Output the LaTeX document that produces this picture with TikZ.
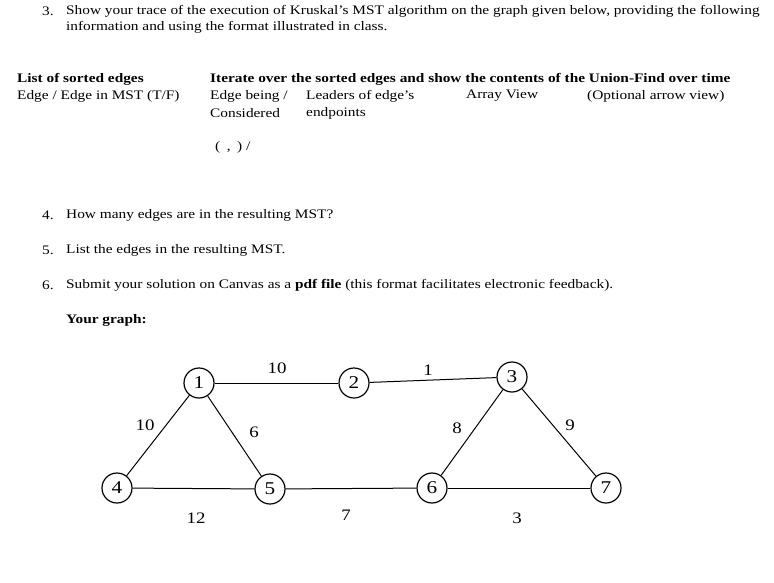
\documentclass[tikz,border=0pt]{standalone}
\usepackage{fontspec}
\setmainfont[FakeStretch=1.18]{Liberation Serif}
\begin{document}
\begin{tikzpicture}[x=1pt,y=-1pt,
  t/.style={anchor=west,inner sep=0pt,font=\fontsize{13}{15}\selectfont},
  b/.style={t,font=\fontsize{13}{15}\selectfont\bfseries},
  v/.style={circle,draw,line width=1.2pt,minimum size=30pt,inner sep=0pt,font=\fontsize{18}{20}\selectfont},
  e/.style={line width=1pt},
  w/.style={font=\fontsize{16}{18}\selectfont,inner sep=1pt}]
\useasboundingbox (0,0) rectangle (774,582);
\node[t] (n3) at (42,11) {3.};
\node[t] (l1) at (66,11) {Show your trace of the execution of Kruskal's MST algorithm on the graph given below, providing the following};
\node[t] (l2) at (66,27) {information and using the format illustrated in class.};
\node[b] (h1) at (17,79) {List of sorted edges};
\node[t] (h2) at (17,96) {Edge / Edge in MST (T/F)};
\node[b] (h3) at (210,79) {Iterate over the sorted edges and show the contents of the Union-Find over time};
\node[t] (c1) at (210,96) {Edge being /};
\node[t] (c2) at (306,96) {Leaders of edge's};
\node[t] (c3) at (466,96) {Array View};
\node[t] (c4) at (587,96) {(Optional arrow view)};
\node[t] (c5) at (210,113) {Considered};
\node[t] (c6) at (306,113) {endpoints};
\node[t] (c7) at (215,147) {(\enspace,\enspace) /};
\node[t] (q4) at (42,215) {4.};
\node[t] (q4t) at (66,215) {How many edges are in the resulting MST?};
\node[t] (q5) at (42,250) {5.};
\node[t] (q5t) at (66,250) {List the edges in the resulting MST.};
\node[t] (q6) at (42,285) {6.};
\node[t] (q6t) at (66,285) {Submit your solution on Canvas as a \textbf{pdf file} (this format facilitates electronic feedback).};
\node[b] (yg) at (66,320) {Your graph:};
\node[v] (v1) at (199,383) {1};
\node[v] (v2) at (354,383) {2};
\node[v] (v3) at (512,377) {3};
\node[v] (v4) at (117,488) {4};
\node[v] (v5) at (270,489) {5};
\node[v] (v6) at (432,488) {6};
\node[v] (v7) at (606,488) {7};
\draw[e] (v1) -- (v2);
\draw[e] (v2) -- (v3);
\draw[e] (v1) -- (v4);
\draw[e] (v1) -- (v5);
\draw[e] (v3) -- (v6);
\draw[e] (v3) -- (v7);
\draw[e] (v4) -- (v5);
\draw[e] (v5) -- (v6);
\draw[e] (v6) -- (v7);
\node[w] (w12) at (277,368) {10};
\node[w] (w23) at (428,370) {1};
\node[w] (w14) at (145,425) {10};
\node[w] (w15) at (254,432) {6};
\node[w] (w36) at (457,428) {8};
\node[w] (w37) at (570,425) {9};
\node[w] (w45) at (196,518) {12};
\node[w] (w56) at (346,515) {7};
\node[w] (w67) at (517,518) {3};
\end{tikzpicture}
\end{document}
